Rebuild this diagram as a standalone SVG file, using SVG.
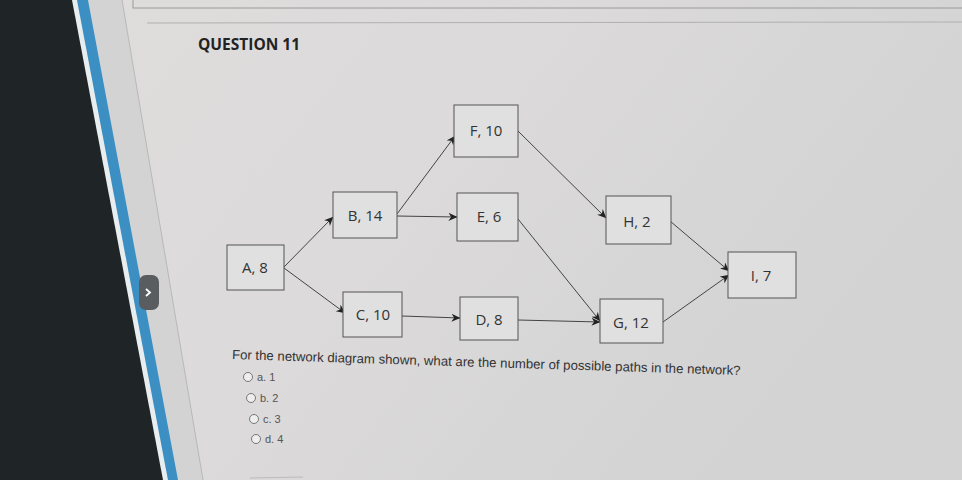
<svg xmlns="http://www.w3.org/2000/svg" width="962" height="480" viewBox="0 0 962 480">
<defs>
<linearGradient id="bg" x1="0" y1="0" x2="1" y2="0.4">
<stop offset="0" stop-color="#e0dcdc"/>
<stop offset="0.5" stop-color="#dcdadb"/>
<stop offset="1" stop-color="#d3d3d3"/>
</linearGradient>
<marker id="arr" viewBox="0 0 10 10" refX="9.5" refY="5" markerWidth="9" markerHeight="9" orient="auto" markerUnits="userSpaceOnUse">
<path d="M0,0.5 L10,5 L0,9.5 L3,5 Z" fill="#222"/>
</marker>
<style>
.box{fill:#e0e0e0;stroke:#555;stroke-width:1}
.lbl{font-family:"Open Sans","Noto Sans",sans-serif;font-size:15px;fill:#333;text-anchor:middle}
.edge{stroke:#444;stroke-width:1;fill:none;marker-end:url(#arr)}
.opt{font-family:"Liberation Sans",Arial,sans-serif;font-size:11px;fill:#555}
.rad{fill:#eee;stroke:#777;stroke-width:1}
</style>
</defs>
<rect x="0" y="0" width="962" height="480" fill="url(#bg)"/>
<polygon points="88,0 122,0 203,480 178,480" fill="#d4d3d4"/>
<line x1="122" y1="0" x2="203" y2="480" stroke="#b8b8b8" stroke-width="1"/>
<polygon points="0,0 73,0 164,480 0,480" fill="#1f2426"/>
<polygon points="72,0 77,0 168,480 163,480" fill="#e8eef0"/>
<polygon points="77,0 88,0 178,480 168,480" fill="#3b8fc2"/>
<rect x="133" y="-2" width="840" height="10" fill="none" stroke="#9a9a9a" stroke-width="1"/>
<line x1="147" y1="23" x2="962" y2="22" stroke="#b0b0b0" stroke-width="1"/>
<g id="tab">
<rect x="139" y="275" width="20" height="35" rx="7" fill="#5a5d60"/>
<path d="M146,289 L150,292.5 L146,296" fill="none" stroke="#fff" stroke-width="1.8"/>
</g>
<text x="198" y="50" font-family="'Open Sans','Noto Sans',sans-serif" font-size="15.5" font-weight="bold" fill="#222">QUESTION 11</text>
<g id="connectors">
<line class="edge" x1="284" y1="267" x2="333" y2="217"/>
<line class="edge" x1="284" y1="268" x2="345" y2="313"/>
<line class="edge" x1="397" y1="214" x2="455" y2="136"/>
<line class="edge" x1="397" y1="216" x2="457" y2="217"/>
<line class="edge" x1="402" y1="316" x2="460" y2="318"/>
<line class="edge" x1="518" y1="131" x2="606" y2="218"/>
<line class="edge" x1="518" y1="219" x2="600" y2="321"/>
<line class="edge" x1="518" y1="320" x2="600" y2="322"/>
<line class="edge" x1="670" y1="221" x2="729" y2="271"/>
<line class="edge" x1="663" y1="322" x2="729" y2="275"/>
</g>
<g id="nodeA"><rect class="box" x="227" y="245" width="57" height="45"/><text class="lbl" x="255" y="273">A, 8</text></g>
<g id="nodeB"><rect class="box" x="333" y="192" width="64" height="46"/><text class="lbl" x="365" y="221">B, 14</text></g>
<g id="nodeF"><rect class="box" x="454" y="105" width="64" height="52"/><text class="lbl" x="486" y="136">F, 10</text></g>
<g id="nodeE"><rect class="box" x="457" y="193" width="61" height="48"/><text class="lbl" x="489" y="222">E, 6</text></g>
<g id="nodeC"><rect class="box" x="343" y="292" width="59" height="45"/><text class="lbl" x="373" y="320">C, 10</text></g>
<g id="nodeD"><rect class="box" x="460" y="297" width="58" height="43"/><text class="lbl" x="489" y="325">D, 8</text></g>
<g id="nodeH"><rect class="box" x="606" y="196" width="65" height="48"/><text class="lbl" x="637" y="227">H, 2</text></g>
<g id="nodeG"><rect class="box" x="600" y="299" width="63" height="44"/><text class="lbl" x="631" y="328">G, 12</text></g>
<g id="nodeI"><rect class="box" x="728" y="252" width="68" height="46"/><text class="lbl" x="761" y="281">I, 7</text></g>
<g transform="rotate(1.8 232 356)">
<text x="232" y="359" font-family="'Liberation Sans',Arial,sans-serif" font-size="13.2" fill="#333">For the network diagram shown, what are the number of possible paths in the network?</text>
</g>
<g id="options">
<circle class="rad" cx="248" cy="377" r="4.5"/><text class="opt" x="257" y="381">a. 1</text>
<circle class="rad" cx="251" cy="398" r="4.5"/><text class="opt" x="260" y="402">b. 2</text>
<circle class="rad" cx="254" cy="419" r="4.5"/><text class="opt" x="263" y="423">c. 3</text>
<circle class="rad" cx="256" cy="439" r="4.5"/><text class="opt" x="265" y="443">d. 4</text>
</g>
<line x1="250" y1="478" x2="303" y2="477" stroke="#bbb" stroke-width="1"/>
</svg>
